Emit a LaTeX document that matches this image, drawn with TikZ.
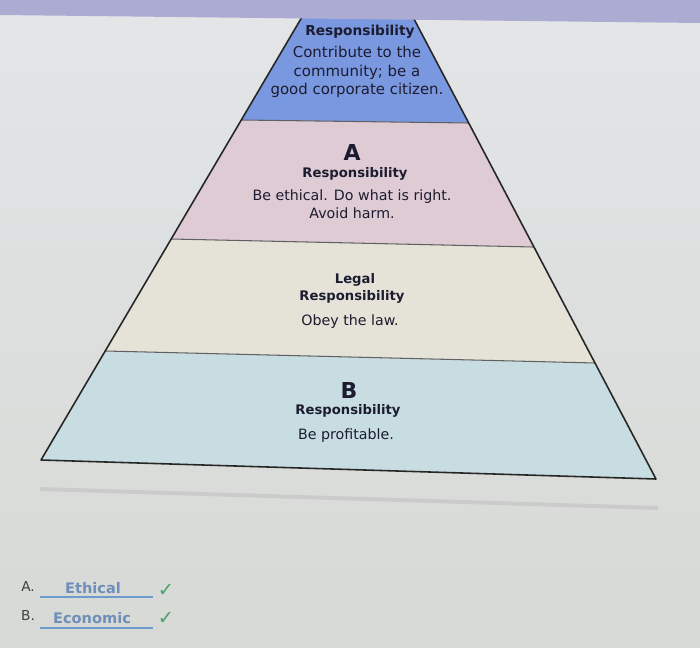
\documentclass[tikz,border=0pt]{standalone}
\usepackage{fontspec}
\usepackage{xcolor}
\setmainfont{DejaVu Sans}
\definecolor{ink}{RGB}{28,28,48}
\definecolor{screen}{RGB}{227,229,232}
\definecolor{screenlow}{RGB}{214,217,212}
\definecolor{topbar}{RGB}{172,172,210}
\definecolor{tierone}{RGB}{122,152,224}
\definecolor{tiertwo}{RGB}{223,203,212}
\definecolor{tierthree}{RGB}{229,227,215}
\definecolor{tierfour}{RGB}{200,221,225}
\definecolor{answerblue}{RGB}{112,142,186}
\definecolor{ruleblue}{RGB}{110,155,205}
\definecolor{tickgreen}{RGB}{72,160,108}

\begin{document}
\begin{tikzpicture}[x=0.02cm,y=-0.02cm,inner sep=0pt]
    \tikzstyle{level}=[draw=black!62,line width=0.6pt]
    \tikzstyle{side}=[draw=black!85,line width=0.9pt,line join=round]
    \tikzstyle{title}=[font=\fontsize{7.5}{9}\selectfont\bfseries,text=ink]
    \tikzstyle{body}=[font=\fontsize{8.1}{10.2}\selectfont,text=ink,align=center]
    \tikzstyle{letter}=[font=\fontsize{12.5}{14}\selectfont\bfseries,text=ink]
    \tikzstyle{item}=[font=\fontsize{7.8}{9}\selectfont,text=black!75]
    \tikzstyle{answer}=[font=\fontsize{8.3}{10}\selectfont\bfseries,text=answerblue]
    \tikzstyle{tick}=[font=\fontsize{11}{12}\selectfont\bfseries,text=tickgreen]

    \useasboundingbox (0,0) rectangle (700,648);
    \shade[top color=screen,bottom color=screenlow] (0,0) rectangle (700,648);
    \draw[black!22,line width=2.2pt,opacity=0.8] (40,489) -- (658,508);

    % corners of the levels, left and right
    \coordinate (l0) at (312,0);   \coordinate (r0) at (404,0);
    \coordinate (l1) at (241,120); \coordinate (r1) at (468,123);
    \coordinate (l2) at (171,239); \coordinate (r2) at (533,247);
    \coordinate (l3) at (105,351); \coordinate (r3) at (595,363);
    \coordinate (l4) at (41,460);  \coordinate (r4) at (656,479);

    \fill[tierone]   (l0) -- (r0) -- (r1) -- (l1) -- cycle;
    \fill[tiertwo]   (l1) -- (r1) -- (r2) -- (l2) -- cycle;
    \fill[tierthree] (l2) -- (r2) -- (r3) -- (l3) -- cycle;
    \fill[tierfour]  (l3) -- (r3) -- (r4) -- (l4) -- cycle;
    \foreach \i in {1,2,3} {
        \draw[level] (l\i) -- (r\i);
    };
    \draw[side] (l0) -- (l4) -- (r4) -- (r0);

    \fill[topbar] (0,0) -- (700,0) -- (700,23) -- (0,15) -- cycle;

    % philanthropic
    \node[title,font=\fontsize{7.8}{9}\selectfont\bfseries] (t1) at (360,32) {Responsibility};
    \node[body,font=\fontsize{8.5}{10.6}\selectfont] (b1) at (357,72) {Contribute to the\\community; be a\\good corporate citizen.};

    % ethical
    \node[letter] (k2) at (352,152) {A};
    \node[title] (t2) at (355,174) {Responsibility};
    \node[body] (b2) at (352,204) {Be ethical. Do what is right.\\Avoid harm.};

    % legal
    \node[title] (t3) at (355,280) {Legal};
    \node[title] (s3) at (352,297) {Responsibility};
    \node[body] (b3) at (350,322) {Obey the law.};

    % economic
    \node[letter] (k4) at (349,390) {B};
    \node[title] (t4) at (348,411) {Responsibility};
    \node[body] (b4) at (346,436) {Be profitable.};

    % answers
    \node[item] (qa) at (28,587) {A.};
    \node[answer] (aa) at (93,588) {Ethical};
    \coordinate (ua) at (40,597);
    \coordinate (va) at (153,597);
    \draw[ruleblue,line width=0.7pt] (ua) -- (va);
    \node[tick] (ca) at (166,590) {✓};

    \node[item] (qb) at (28,616) {B.};
    \node[answer] (ab) at (92,618) {Economic};
    \coordinate (ub) at (40,628);
    \coordinate (vb) at (153,628);
    \draw[ruleblue,line width=0.7pt] (ub) -- (vb);
    \node[tick] (cb) at (166,618) {✓};
\end{tikzpicture}
\end{document}
